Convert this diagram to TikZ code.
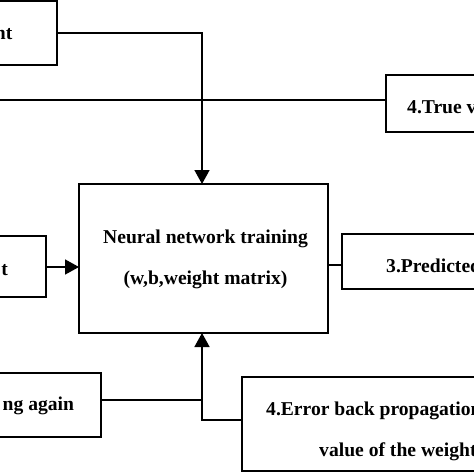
\documentclass[tikz,border=0pt]{standalone}
\usepackage{fontspec}
\setmainfont{Liberation Serif}
\usetikzlibrary{arrows.meta}
\tikzset{
  box/.style={draw=black, line width=1.6pt, rectangle, inner sep=0pt, outer sep=0pt},
  lbl/.style={inner sep=0pt, font=\fontsize{19.6}{21}\selectfont\bfseries},
  conn/.style={draw=black, line width=1.6pt},
  arr/.style={conn, -{Triangle[length=14pt,width=15pt]}}
}
\begin{document}
\begin{tikzpicture}[x=1pt,y=-1pt]
\useasboundingbox (0,0) rectangle (474,474);
\fill[white] (0,0) rectangle (474,474);
\clip (0,0) rectangle (474,474);
% boxes
\node[box, minimum width=107pt, minimum height=64pt, anchor=north east] (input1) at (57,1) {};
\node[box, minimum width=104pt, minimum height=57pt, anchor=north west] (truev) at (386,75) {};
\node[box, minimum width=249pt, minimum height=149pt, anchor=north west] (nn) at (79,184) {};
\node[box, minimum width=96pt, minimum height=61pt, anchor=north east] (input2) at (46,236) {};
\node[box, minimum width=148pt, minimum height=55pt, anchor=north west] (pred) at (342,234) {};
\node[box, minimum width=151pt, minimum height=64pt, anchor=north east] (again) at (101,373) {};
\node[box, minimum width=248pt, minimum height=94pt, anchor=north west] (err) at (242,377) {};
% texts
\node[lbl, anchor=base east] (t1) at (12.5,39) {nt};
\node[lbl, anchor=base west] (t2) at (407,113) {4.True value};
\node[lbl, anchor=base] (t3) at (205.5,243) {Neural network training};
\node[lbl, anchor=base] (t4) at (205.5,284) {(w,b,weight matrix)};
\node[lbl, anchor=base east] (t5) at (8,275) {t};
\node[lbl, anchor=base west] (t6) at (386,272) {3.Predicted};
\node[lbl, anchor=base west] (t7) at (2.5,410) {ng again};
\node[lbl, anchor=base west] (t8) at (266,415) {4.Error back propagation};
\node[lbl, anchor=base west] (t9) at (319,456) {value of the weight};
% connectors
\coordinate (j1) at (202,33);
\coordinate (lft) at (-10,100);
\coordinate (j2) at (202,420);
\coordinate (j3) at (202,400);
\draw[arr] (input1.east |- j1) -- (j1) -- (nn.north -| j1);
\draw[conn] (lft) -- (truev.west |- lft);
\draw[arr] (input2.east |- 0,267) -- (nn.west |- 0,267);
\draw[conn] (nn.east |- 0,265) -- (pred.west |- 0,265);
\draw[conn] (again.east |- j3) -- (j3);
\draw[arr] (err.west |- j2) -- (j2) -- (nn.south -| j2);
\end{tikzpicture}
\end{document}
